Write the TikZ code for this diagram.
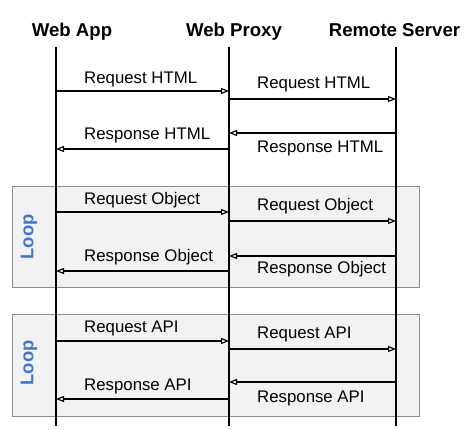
\documentclass[tikz,border=0pt]{standalone}
\usepackage{fontspec}
\setmainfont{Liberation Sans}
\usetikzlibrary{arrows.meta}
\definecolor{loopblue}{RGB}{62,118,214}
\definecolor{boxfill}{RGB}{242,242,242}
\definecolor{boxline}{RGB}{140,140,140}
\tikzset{
  title/.style={font=\fontsize{18.6}{22}\selectfont\bfseries, inner sep=0pt, anchor=base},
  msglabel/.style={font=\fontsize{16.8}{20}\selectfont, inner sep=0pt, anchor=base west},
  lifeline/.style={line width=2.8pt},
  msg/.style={line width=1.3pt, -{Triangle[open,length=8pt,width=6pt,line width=1.1pt]}},
  loopbox/.style={draw=boxline, fill=boxfill, line width=0.9pt},
  looplabel/.style={font=\fontsize{18.4}{22}\selectfont\bfseries, text=loopblue, rotate=90, inner sep=0pt}
}
\begin{document}
\begin{tikzpicture}[x=1pt,y=-1pt]
\useasboundingbox (0,0) rectangle (474,430);
% loop boxes
\node[loopbox, minimum width=407pt, minimum height=101pt, anchor=north west, inner sep=0pt] (loopA) at (12,186) {};
\node[loopbox, minimum width=407pt, minimum height=102pt, anchor=north west, inner sep=0pt] (loopB) at (12,314) {};
\node[looplabel] (loopAlbl) at (29,237) {Loop};
\node[looplabel] (loopBlbl) at (29,363) {Loop};
% titles
\node[title] (tApp) at (72,36.5) {Web App};
\node[title] (tProxy) at (234,36.5) {Web Proxy};
\node[title] (tServer) at (394.5,36.5) {Remote Server};
% lifelines
\coordinate (appTop) at (56,47);
\coordinate (appBot) at (56,426);
\coordinate (pxTop) at (229,47);
\coordinate (pxBot) at (229,426);
\coordinate (svTop) at (396,47);
\coordinate (svBot) at (396,426);
\draw[lifeline] (appTop) -- (appBot);
\draw[lifeline] (pxTop) -- (pxBot);
\draw[lifeline] (svTop) -- (svBot);
% message endpoints
\coordinate (m1) at (56,91);
\coordinate (m2) at (229,99);
\coordinate (m3) at (396,133);
\coordinate (m4) at (229,149);
\coordinate (m5) at (56,212);
\coordinate (m6) at (229,221);
\coordinate (m7) at (396,256);
\coordinate (m8) at (229,271);
\coordinate (m9) at (56,341);
\coordinate (m10) at (229,349);
\coordinate (m11) at (396,382);
\coordinate (m12) at (229,399);
% messages
\draw[msg] (m1) -- (m1 -| pxTop);
\draw[msg] (m2) -- (m2 -| svTop);
\draw[msg] (m3) -- (m3 -| pxTop);
\draw[msg] (m4) -- (m4 -| appTop);
\draw[msg] (m5) -- (m5 -| pxTop);
\draw[msg] (m6) -- (m6 -| svTop);
\draw[msg] (m7) -- (m7 -| pxTop);
\draw[msg] (m8) -- (m8 -| appTop);
\draw[msg] (m9) -- (m9 -| pxTop);
\draw[msg] (m10) -- (m10 -| svTop);
\draw[msg] (m11) -- (m11 -| pxTop);
\draw[msg] (m12) -- (m12 -| appTop);
% labels
\node[msglabel] (l1) at (84,83.3) {Request HTML};
\node[msglabel] (l2) at (257,89) {Request HTML};
\node[msglabel] (l3) at (257,153) {Response HTML};
\node[msglabel] (l4) at (84,140) {Response HTML};
\node[msglabel] (l5) at (84,204.3) {Request Object};
\node[msglabel] (l6) at (257,211) {Request Object};
\node[msglabel] (l7) at (257,274) {Response Object};
\node[msglabel] (l8) at (84,261.7) {Response Object};
\node[msglabel] (l9) at (84,332.7) {Request API};
\node[msglabel] (l10) at (257,338) {Request API};
\node[msglabel] (l11) at (257,402) {Response API};
\node[msglabel] (l12) at (84,390) {Response API};
\end{tikzpicture}
\end{document}
